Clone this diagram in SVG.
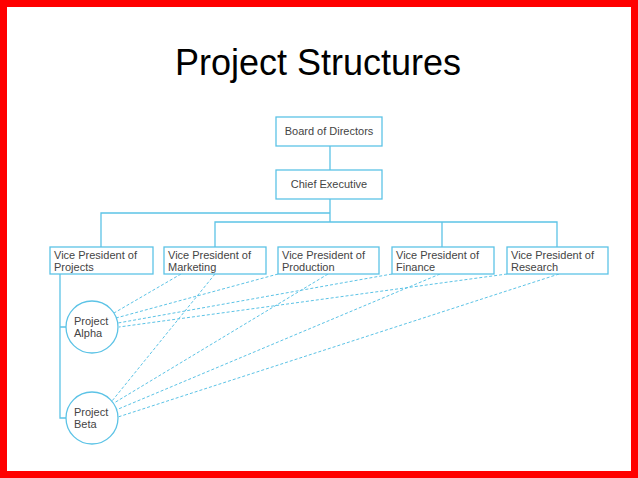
<svg xmlns="http://www.w3.org/2000/svg" width="638" height="478" viewBox="0 0 638 478">
<style>
.b{fill:#fff;stroke:#5cc3e6;stroke-width:1.3}
.t{font-family:"Liberation Sans",Arial,sans-serif;font-size:11px;fill:#444}
.c{fill:none;stroke:#5cc3e6;stroke-width:1.3}
.d{fill:none;stroke:#5cc3e6;stroke-width:1;stroke-dasharray:3,2}
</style>
<rect x="0" y="0" width="638" height="478" fill="#fff"/>
<rect x="3.5" y="3.5" width="631" height="471" fill="none" stroke="#f00" stroke-width="7"/>
<text x="318" y="75" text-anchor="middle" font-family="Liberation Sans,Arial,sans-serif" font-size="36" fill="#000">Project Structures</text>
<g id="connectors">
<path class="c" d="M330 146V170M330 199V222M330 213H101V247M215 247V222H557V247M442 222V247M60 274V418H66M60 327H66"/>
<path class="d" d="M181 274L114 313M215 274L112 401M278 274L116 318M328 274L114 403M392 274L118 323M440 274L116 410M507 274L119 327M559 274L118 417"/>
</g>
<g id="board"><rect class="b" x="276" y="117" width="106" height="29"/><text class="t" x="329" y="135" text-anchor="middle">Board of Directors</text></g>
<g id="chief"><rect class="b" x="276" y="170" width="106" height="29"/><text class="t" x="329" y="188" text-anchor="middle">Chief Executive</text></g>
<g id="vp-projects"><rect class="b" x="50" y="247" width="103" height="27"/><text class="t" x="54" y="259">Vice President of</text><text class="t" x="54" y="271">Projects</text></g>
<g id="vp-marketing"><rect class="b" x="164" y="247" width="102" height="27"/><text class="t" x="168" y="259">Vice President of</text><text class="t" x="168" y="271">Marketing</text></g>
<g id="vp-production"><rect class="b" x="278" y="247" width="101" height="27"/><text class="t" x="282" y="259">Vice President of</text><text class="t" x="282" y="271">Production</text></g>
<g id="vp-finance"><rect class="b" x="392" y="247" width="102" height="27"/><text class="t" x="396" y="259">Vice President of</text><text class="t" x="396" y="271">Finance</text></g>
<g id="vp-research"><rect class="b" x="507" y="247" width="101" height="27"/><text class="t" x="511" y="259">Vice President of</text><text class="t" x="511" y="271">Research</text></g>
<g id="alpha"><circle class="b" cx="92" cy="327" r="26"/><text class="t" x="74" y="325">Project</text><text class="t" x="74" y="337">Alpha</text></g>
<g id="beta"><circle class="b" cx="92" cy="418" r="26"/><text class="t" x="74" y="416">Project</text><text class="t" x="74" y="428">Beta</text></g>
</svg>
